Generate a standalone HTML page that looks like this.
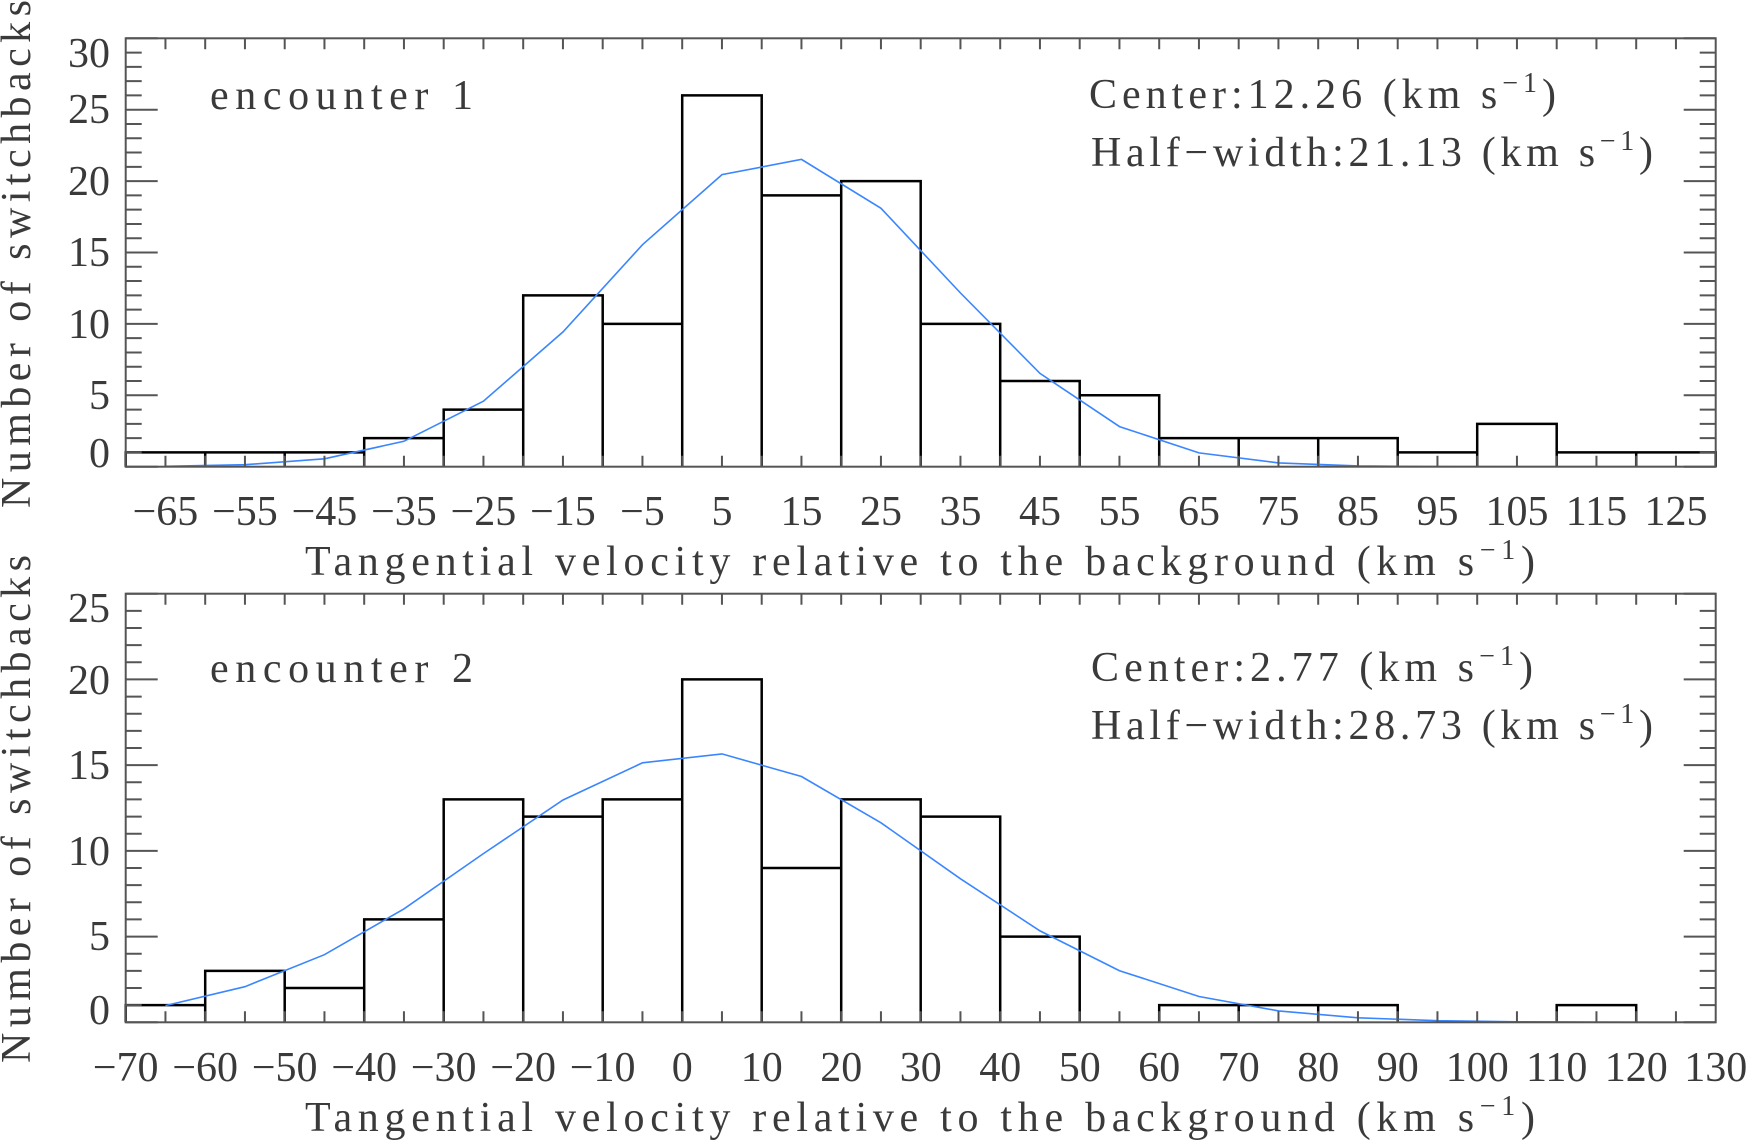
<!DOCTYPE html>
<html><head><meta charset="utf-8"><style>
html,body{margin:0;padding:0;background:#fff;}
svg{display:block;}
text{font-family:"Liberation Serif","DejaVu Serif",serif;fill:#3a3a3a;}
</style></head><body>
<svg id="s" width="1751" height="1140" viewBox="0 0 1751 1140" xmlns="http://www.w3.org/2000/svg">
<rect width="1751" height="1140" fill="#fff"/>
<text x="0" y="0" transform="translate(30,254) rotate(-90)" text-anchor="middle" font-size="42" textLength="508" lengthAdjust="spacing">Number of switchbacks</text>
<text x="0" y="0" transform="translate(30,809) rotate(-90)" text-anchor="middle" font-size="42" textLength="508" lengthAdjust="spacing">Number of switchbacks</text>
<text x="210" y="109" font-size="42" textLength="263" lengthAdjust="spacing">encounter 1</text>
<text x="210" y="682" font-size="42" textLength="263" lengthAdjust="spacing">encounter 2</text>
<text x="1089" y="108" font-size="42" textLength="467" lengthAdjust="spacing">Center:12.26 (km s<tspan font-size="28" dy="-16">−1</tspan><tspan dy="16">)</tspan></text>
<text x="1091" y="166" font-size="42" textLength="562" lengthAdjust="spacing">Half−width:21.13 (km s<tspan font-size="28" dy="-16">−1</tspan><tspan dy="16">)</tspan></text>
<text x="1091" y="681" font-size="42" textLength="442" lengthAdjust="spacing">Center:2.77 (km s<tspan font-size="28" dy="-16">−1</tspan><tspan dy="16">)</tspan></text>
<text x="1091" y="739" font-size="42" textLength="562" lengthAdjust="spacing">Half−width:28.73 (km s<tspan font-size="28" dy="-16">−1</tspan><tspan dy="16">)</tspan></text>
<text x="305" y="575" font-size="42" textLength="1230" lengthAdjust="spacing">Tangential velocity relative to the background (km s<tspan font-size="28" dy="-16">−1</tspan><tspan dy="16">)</tspan></text>
<text x="305" y="1131" font-size="42" textLength="1230" lengthAdjust="spacing">Tangential velocity relative to the background (km s<tspan font-size="28" dy="-16">−1</tspan><tspan dy="16">)</tspan></text>
<g id="g"></g>
</svg>
<script>
var g=document.getElementById('g'),h='';
var L=125.7,BW=79.5,W=BW*20;
function X(v){return L+(v+70)*BW/10;}
function panel(top,bot,ymax,counts,A,c,sg,ylab,xlabs,xlabY){
 var u=(bot-top)/ymax;
 var d='';
 for(var i=0;i<counts.length;i++){if(counts[i]>0){var x=L+i*BW,y=bot-counts[i]*u;d+='M'+x+' '+bot+'V'+y+'H'+(x+BW)+'V'+bot;}}
 h+='<path d="'+d+'" fill="none" stroke="#000" stroke-width="2.5"/>';
 var p=[];for(var v=-65;v<=125;v+=10){var val=A*Math.exp(-Math.pow(v-c,2)/(2*sg*sg));p.push(X(v).toFixed(1)+','+(bot-val*u).toFixed(1));}
 h+='<polyline points="'+p.join(' ')+'" fill="none" stroke="#3a86ff" stroke-width="1.6"/>';
 h+='<rect x="'+L+'" y="'+top+'" width="'+W+'" height="'+(bot-top)+'" fill="none" stroke="#555" stroke-width="2"/>';
 var t='';
 for(var k=0;k<=ymax;k++){var y=bot-k*u,len=(k%5==0)?32:16;t+='M'+L+' '+y+'h'+len+'M'+(L+W)+' '+y+'h'+(-len);}
 for(var x=L+BW/2;x<L+W-1;x+=BW/2){t+='M'+x+' '+top+'v11M'+x+' '+bot+'v-11';}
 h+='<path d="'+t+'" stroke="#555" stroke-width="2" fill="none"/>';
 for(var j=0;j<ylab.length;j++){h+='<text x="110" y="'+(ylab[j][1]+14)+'" text-anchor="end" font-size="42">'+ylab[j][0]+'</text>';}
 for(var j=0;j<xlabs.length;j++){h+='<text x="'+xlabs[j][1]+'" y="'+xlabY+'" text-anchor="middle" font-size="42">'+xlabs[j][0]+'</text>';}
}
var xl1=[];for(var i=0;i<20;i++){var v=-65+10*i;xl1.push([(v<0?'−'+(-v):v),X(v)]);}
var xl2=[];for(var i=0;i<=20;i++){var v=-70+10*i;xl2.push([(v<0?'−'+(-v):v),X(v)]);}
panel(38.3,466.7,30,[1,1,1,2,4,12,10,26,19,20,10,6,5,2,2,2,1,3,1,1],21.7,12.26,21.13,
 [['30',53],['25',109],['20',181],['15',252],['10',324],['5',395],['0',453]],xl1,525);
panel(593.7,1022.3,25,[1,3,2,6,13,12,13,20,9,13,12,5,0,1,1,1,0,0,1,0],15.7,2.77,28.73,
 [['25',608],['20',680],['15',765],['10',851],['5',936],['0',1010]],xl2,1081);
g.innerHTML=h;
</script>
</body></html>
